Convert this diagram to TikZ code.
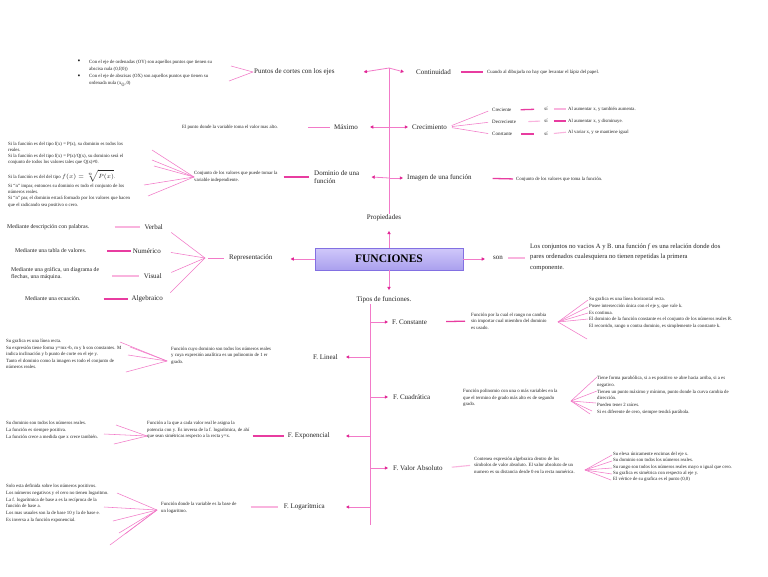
\documentclass[tikz,border=0pt]{standalone}
\usepackage{fontspec}
\setmainfont{Liberation Serif}
\usetikzlibrary{positioning,arrows.meta,calc}
\definecolor{spine}{RGB}{242,122,200}
\definecolor{tipc}{RGB}{226,40,150}
\definecolor{segdark}{RGB}{232,60,160}
\definecolor{seglight}{RGB}{249,180,222}
\definecolor{boxtop}{RGB}{208,200,250}
\definecolor{boxbot}{RGB}{170,160,238}
\definecolor{boxline}{RGB}{130,112,226}
\definecolor{txt}{RGB}{35,35,35}
\tikzset{
  lbl/.style={font=\fontsize{7}{8.5}\selectfont,inner sep=1pt,text=txt},
  sublbl/.style={font=\fontsize{5}{6}\selectfont,inner sep=1pt,text=txt},
  note/.style={font=\fontsize{4.8}{6.6}\selectfont,inner sep=0pt,align=left,text=txt},
  mednote/.style={note,font=\fontsize{5.8}{7}\selectfont},
  list/.style={note,font=\fontsize{4.8}{6.8}\selectfont},
  ln/.style={-{Triangle[length=3.2pt,width=3.2pt,color=tipc]},spine,line width=0.8pt},
  rule/.style={spine,line width=0.8pt},
  fan/.style={spine,line width=0.55pt},
  thk/.style={segdark,line width=1.3pt},
  thn/.style={seglight,line width=1.1pt},
}

\begin{document}
\begin{tikzpicture}[x=1pt,y=-1pt]
\useasboundingbox[fill=white] (0,0) rectangle (768,576);

% --- centre and its four arrows
\node[draw=boxline,line width=0.8pt,top color=boxtop,bottom color=boxbot,
      minimum width=148pt,minimum height=22pt,
      font=\fontsize{11.5}{12}\selectfont\bfseries] (fun) at (389,259) {FUNCIONES};
\node[lbl] (prop)  at (384,218) {Propiedades};
\node[lbl] (tipos) at (384,300) {Tipos de funciones.};
\node[lbl,anchor=west] (repr) at (228,258) {Representación};
\node[lbl] (son) at (498,258) {son};
\node[lbl,anchor=west,align=left,font=\fontsize{6.6}{10.5}\selectfont] (sondef) at (529,257)
      {Los conjuntos no vacios A y B. una función \textit{f} es una relación donde dos\\
       pares ordenados cualesquiera no tienen repetidas la primera\\componente.};

\draw[ln,shorten >=8.5pt] (fun.north) -- (prop.south -| fun.north);
\draw[ln,shorten >=17pt] (fun.west) -- (repr.east |- fun.west);
\draw[ln,shorten >=7pt]  (fun.east) -- (son.west |- fun.east);
\draw[ln,shorten >=5.5pt] (fun.south) -- (tipos.north -| fun.south);
\draw[thn,shorten <=4pt,shorten >=4pt] (son.east) -- (sondef.west |- son.east);

% --- propiedades: upper spine
\coordinate (top) at (389,68);
\draw[rule] (prop.north -| top) -- (top);

\node[lbl,anchor=west] (pce)  at (253,72) {Puntos de cortes con los ejes};
\node[lbl,anchor=west] (cont) at (415,72) {Continuidad};
\draw[ln] (top) -- ([xshift=28pt]pce.east);
\draw[ln] (top) -- ([xshift=-11pt]cont.west);

\node[note,anchor=west] (contdesc) at (487,72)
      {Cuando al dibujarla no hay que levantar el lápiz del papel.};
\draw[thk,shorten <=9pt,shorten >=4pt] (cont.east) -- (contdesc.west);

\node[note,font=\fontsize{8}{8}\selectfont] (bul1) at (79,62) {\textbullet};
\node[note,font=\fontsize{8}{8}\selectfont] (bul2) at (79,77) {\textbullet};
\node[list,anchor=north west,font=\fontsize{4.8}{7.2}\selectfont] (pt1) at (89,59.5)
      {Con el eje de ordenadas (OY) son aquellos puntos que tienen su\\abscisa nula (0,f(0))};
\node[list,anchor=north west,font=\fontsize{4.8}{7.2}\selectfont] (pt2) at (89,74)
      {Con el eje de abscisas (OX) son aquellos puntos que tienen su\\ordenada nula (x$_0$,0)};
\coordinate (pf1) at (231,66);
\coordinate (pf2) at (229,81);
\draw[fan] (pce.west) -- (pf1);
\draw[fan] (pce.west) -- (pf2);

% maximo / crecimiento
\node[lbl] (maxi) at (346,127) {Máximo};
\node[lbl,anchor=west] (crec) at (411,127) {Crecimiento};
\draw[ln] (top |- maxi) -- ([xshift=11pt]maxi.east);
\draw[ln] (top |- crec) -- ([xshift=-3pt]crec.west);
\node[note,anchor=west] (maxidesc) at (182,127)
      {El punto donde la variable toma el valor mas alto.};
\draw[rule,shorten <=30pt,shorten >=3pt] (maxidesc.east) -- (maxi.west);

\node[sublbl,anchor=west] (cre1) at (491,110) {Creciente};
\node[sublbl,anchor=west] (cre2) at (491,122) {Decreciente};
\node[sublbl,anchor=west] (cre3) at (491,134) {Constante};
\foreach \i in {1,2,3}
  \draw[fan,shorten <=4pt,shorten >=3pt] (crec.east) -- (cre\i.west);

\node[sublbl] (si1) at (546,109) {sí};
\node[sublbl] (si2) at (546,121) {sí};
\node[sublbl] (si3) at (546,134) {sí};
\node[note,anchor=west] (res1) at (568,109) {Al aumentar x, y también aumenta.};
\node[note,anchor=west] (res2) at (568,121) {Al aumentar x, y disminuye.};
\node[note,anchor=west] (res3) at (568,132) {Al variar x, y se mantiene igual};
\draw[thk,shorten <=8pt,shorten >=9pt]  (cre1.east) -- (si1.west);
\draw[thn,shorten <=11pt,shorten >=3pt] (cre2.east) -- (si2.west);
\draw[thk,shorten <=8pt,shorten >=9pt]  (cre3.east) -- (si3.west);
\draw[thn,shorten <=5pt,shorten >=2pt]  (si1.east) -- (res1.west);
\draw[thk,shorten <=5pt,shorten >=2pt]  (si2.east) -- (res2.west);
\draw[thn,shorten <=5pt,shorten >=2pt]  (si3.east) -- (res3.west);

% dominio / imagen
\node[lbl,anchor=west,align=left] (dom) at (313,177) {Dominio de una\\función};
\node[lbl,anchor=west] (img) at (406,178) {Imagen de una función};
\draw[ln] (top |- img) -- ([xshift=11pt]dom.east);
\draw[ln] (top |- img) -- ([xshift=-3pt]img.west);

\node[note,anchor=west] (domdesc) at (194,177)
      {Conjunto de los valores que puede tomar la\\variable independiente.};
\draw[thk,shorten <=6pt,shorten >=4pt] (domdesc.east) -- (dom.west);
\node[note,anchor=north west,font=\fontsize{4.8}{6.2}\selectfont] (domitems) at (8,141.5)
      {Si la función es del tipo f(x) = P(x), su dominio es todos los\\
       reales.\\
       Si la función es del tipo f(x) = P(x)/Q(x), su dominio será el\\
       conjunto de todos los valores tales que Q(x)≠0.\\[4pt]
       Si la función es del del tipo {\fontsize{6}{6}\selectfont$f(x)=\sqrt[n]{P(x)}$}.\\[1pt]
       Si ``n'' impar, entonces su dominio es todo el conjunto de los\\
       números reales.\\
       Si ``n'' par, el dominio estará formado por los valores que hacen\\
       que el radicando sea positivo o cero.};
\foreach \x/\y [count=\i] in {152/150,152/160,154/166,144/185,148/196}{
  \coordinate (df\i) at (\x,\y);
  \draw[fan] (domdesc.west) -- (df\i);
}

\node[note,anchor=west] (imgdesc) at (516,179) {Conjunto de los valores que toma la función.};
\draw[thk,shorten <=20pt,shorten >=3pt] (img.east) -- (imgdesc.west);

% --- representacion
\coordinate (rvx) at (205,258);
\draw[fan,shorten <=3pt,shorten >=4pt] (rvx) -- (repr.west);
\node[lbl,anchor=east] (verb) at (164,227) {Verbal};
\node[lbl,anchor=east] (num)  at (162,251) {Numérico};
\node[lbl,anchor=east] (vis)  at (163,276) {Visual};
\node[lbl,anchor=east] (alg)  at (164,299) {Algebraico};
\foreach \n in {verb,num,vis,alg}
  \draw[fan,shorten >=9pt] (rvx) -- (\n.east);

\node[mednote,anchor=west] (verbd) at (7,227)  {Mediante descripción con palabras.};
\node[mednote,anchor=west] (numd)  at (15,251) {Mediante una tabla de valores.};
\node[mednote,anchor=west] (visd)  at (11,273.5) {Mediante una gráfica, un diagrama de\\flechas, una máquina.};
\node[mednote,anchor=west] (algd)  at (25,299) {Mediante una ecuación.};
\draw[thn,shorten <=25pt,shorten >=3pt] (verbd.east) -- (verb.west);
\draw[thk,shorten <=21pt,shorten >=1pt] (numd.east) -- (num.west);
\draw[thn,shorten <=13pt,shorten >=4pt] (vis.west -| visd.east) -- (vis.west);
\draw[thk,shorten <=23pt,shorten >=3pt] (algd.east) -- (alg.west);

% --- tipos de funciones: lower spine
\coordinate (bot) at (370,525);
\draw[rule] (tipos.south -| bot) -- (bot);

\node[lbl,anchor=west] (cons) at (391,322) {F. Constante};
\node[lbl,anchor=east] (lin)  at (339,357) {F. Lineal};
\node[lbl,anchor=west] (cuad) at (392,397) {F. Cuadrática};
\node[lbl,anchor=east] (expo) at (331,436) {F. Exponencial};
\node[lbl,anchor=west] (vabs) at (392,468) {F. Valor Absoluto};
\node[lbl,anchor=east] (loga) at (326,507) {F. Logarítmica};
\draw[ln,shorten >=3pt]  (bot |- cons) -- (cons.west);
\draw[ln,shorten >=7pt]  (bot |- lin)  -- (lin.east);
\draw[ln,shorten >=4pt]  (bot |- cuad) -- (cuad.west);
\draw[ln,shorten >=15pt] (bot |- expo) -- (expo.east);
\draw[ln,shorten >=4pt]  (bot |- vabs) -- (vabs.west);
\draw[ln,shorten >=20pt] (bot |- loga) -- (loga.east);

% constante
\node[note,anchor=west] (consdesc) at (471,321)
      {Función por la cual el rango no cambia\\sin importar cual miembro del dominio\\es usado.};
\draw[thk,shorten <=18pt,shorten >=6pt] (cons.east) -- (consdesc.west);
\node[list,anchor=north west] (consitems) at (589,297)
      {Su grafica es una línea horizontal recta.\\
       Posee intersección única con el eje y, que vale k.\\
       Es continua.\\
       El dominio de la función constante es el conjunto de los números reales R.\\
       El recorrido, rango o contra dominio, es simplemente la constante k.};
\coordinate (cvx) at (558,322);
\foreach \x/\y [count=\i] in {588/300,588/307,588/313,588/319,587/339}{
  \coordinate (cf\i) at (\x,\y);
  \draw[fan] (cvx) -- (cf\i);
}

% lineal
\node[note,anchor=west] (lindesc) at (171,355.5)
      {Función cuyo dominio son todos los números reales\\y cuya expresión analítica es un polinomio de 1 er\\grado.};
\node[list,anchor=north west,font=\fontsize{4.8}{6.5}\selectfont] (linitems) at (6,339)
      {Su grafica es una línea recta.\\
       Su expresión tiene forma y=mx+b, m y b son constantes. M\\
       indica inclinación y b punto de corte en el eje y.\\
       Tanto el dominio como la imagen es todo el conjunto de\\
       números reales.};
\coordinate (lvx) at (167,361);
\foreach \x/\y [count=\i] in {120/342,130/347,128/355,126/372}{
  \coordinate (lf\i) at (\x,\y);
  \draw[fan] (lvx) -- (lf\i);
}

% cuadratica
\node[note,anchor=west] (cuaddesc) at (463,398)
      {Función polinomio con una o más variables en la\\que el termino de grado más alto es de segundo\\grado.};
\node[list,anchor=north west] (cuaditems) at (597,376)
      {Tiene forma parabólica, si a es positivo se abre hacia arriba, si a es\\
       negativo.\\
       Tienen un punto máximo y mínimo, punto donde la curva cambia de\\
       dirección.\\
       Pueden tener 2 raíces.\\
       Si es diferente de cero, siempre tendrá parábola.};
\coordinate (qvx) at (571,401);
\foreach \x/\y [count=\i] in {597/377,597/391,596/403,592/411,590/414}{
  \coordinate (qf\i) at (\x,\y);
  \draw[fan] (qvx) -- (qf\i);
}

% exponencial
\node[note,anchor=west] (expodesc) at (147,430)
      {Función a la que a cada valor real le asigna la\\potencia con y. Es inversa de la f. logarítmica, de ahí\\que sean simétricas respecto a la recta y=x.};
\draw[thk,shorten <=3pt,shorten >=3pt] (expodesc.east |- expo.west) -- (expo.west);
\node[list,anchor=north west] (expoitems) at (6,421)
      {Su dominio son todos los números reales.\\
       La función es siempre positiva.\\
       La función crece a medida que x crece también.};
\coordinate (evx) at (147,436);
\foreach \x/\y [count=\i] in {116/425,104/434,114/444}{
  \coordinate (ef\i) at (\x,\y);
  \draw[fan] (evx) -- (ef\i);
}

% valor absoluto
\node[note,anchor=west] (vabsdesc) at (474,465)
      {Contenea expresión algebraica dentro de los\\símbolos de valor absoluto. El valor absoluto de un\\numero es su distancia desde 0 en la recta numérica.};
\draw[thn,shorten <=8pt,shorten >=4pt] (vabs.east) -- (vabsdesc.west);
\node[list,anchor=north west,font=\fontsize{4.8}{6.3}\selectfont] (vabsitems) at (613,452)
      {Su eleva únicamente encimas del eje x.\\
       Su dominio son todos los números reales.\\
       Su rango son todos los números reales mayo o igual que cero.\\
       Su grafica es simétrica con respecto al eje y.\\
       El vértice de su grafica es el punto (0,0)};
\coordinate (avx) at (585,470);
\foreach \x/\y [count=\i] in {612/455,612/461,612/468,612/474,611/480}{
  \coordinate (af\i) at (\x,\y);
  \draw[fan] (avx) -- (af\i);
}

% logaritmica
\node[note,anchor=west] (logadesc) at (161,508)
      {Función donde la variable es la base de\\un logaritmo.};
\draw[thn,shorten <=14pt,shorten >=5pt] (logadesc.east |- loga.west) -- (loga.west);
\node[list,anchor=north west] (logaitems) at (6,484)
      {Solo esta definida sobre los números positivos.\\
       Los números negativos y el cero no tienen logaritmo.\\
       La f. logarítmica de base a es la recíproca de la\\
       función de base a.\\
       Los mas usuales son la de base 10 y la de base e.\\
       Es inversa a la función exponencial.};
\coordinate (gvx) at (157,510);
\foreach \x/\y [count=\i] in {117/493,104/507,113/521,119/533,125/534,110/545}{
  \coordinate (gf\i) at (\x,\y);
  \draw[fan] (gvx) -- (gf\i);
}

\end{tikzpicture}
\end{document}
